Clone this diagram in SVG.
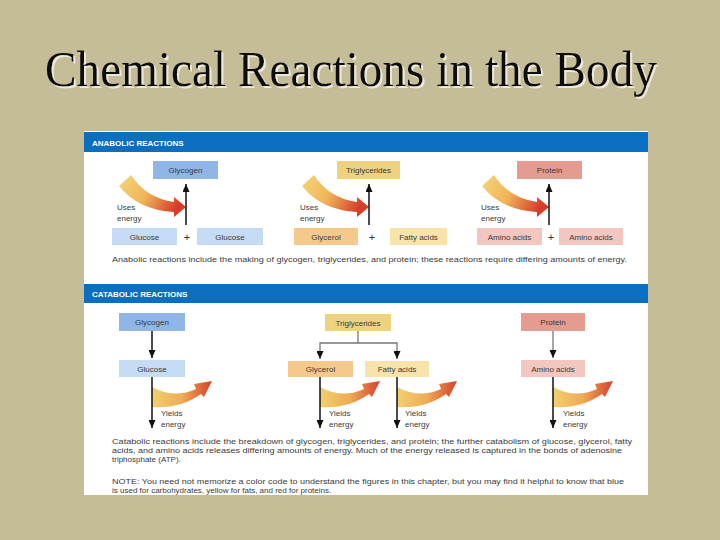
<svg xmlns="http://www.w3.org/2000/svg" width="720" height="540" viewBox="0 0 720 540">
<style>
.lbl{font-family:"Liberation Sans",Arial,sans-serif;font-size:8px;fill:#3a3a3a;text-anchor:middle}
.txt{font-family:"Liberation Sans",Arial,sans-serif;font-size:8px;fill:#3a3a3a}
.hdr{font-family:"Liberation Sans",Arial,sans-serif;font-size:8px;font-weight:bold;fill:#ffffff}
.plus{font-family:"Liberation Sans",Arial,sans-serif;font-size:11px;fill:#333;text-anchor:middle}
.ln{stroke:#111;stroke-width:1.5;fill:none}
.gl{stroke:#777;stroke-width:1.3;fill:none}
</style>
<defs>
<filter id="shadow" x="-5%" y="-20%" width="110%" height="140%">
<feOffset in="SourceAlpha" dx="2" dy="2" result="o"/>
<feFlood flood-color="#ece8da"/>
<feComposite in2="o" operator="in" result="s"/>
<feMerge><feMergeNode in="s"/><feMergeNode in="SourceGraphic"/></feMerge>
</filter>
<marker id="ah" viewBox="0 0 10 10" refX="10" refY="5" markerWidth="8" markerHeight="7" markerUnits="userSpaceOnUse" orient="auto" preserveAspectRatio="none"><path d="M0,0 L10,5 L0,10 z" fill="#111"/></marker>
<linearGradient id="ga" x1="0" y1="0" x2="1" y2="0.3"><stop offset="0" stop-color="#f4d67c"/><stop offset="0.5" stop-color="#f0b458"/><stop offset="1" stop-color="#d63d2a"/></linearGradient>
<linearGradient id="gc" x1="0" y1="0" x2="1" y2="0"><stop offset="0" stop-color="#f2d070"/><stop offset="0.5" stop-color="#eeab55"/><stop offset="1" stop-color="#d6402c"/></linearGradient>
<path id="swA" d="M-55,-32 Q-40,-9 -12,-5 L-12,-10 L0,0 L-12,10 L-12,5 Q-48,3 -67,-21 Z" fill="url(#ga)"/>
<path id="swC" d="M0,0 Q22,12 44,2 L42,-3 L60,-6 L52,10 L49,7 Q28,22 0,20 Z" fill="url(#gc)"/>
</defs>
<rect x="0" y="0" width="720" height="540" fill="#c5bc98"/>
<g id="title">
<text x="45" y="86" font-family="'Liberation Serif','Times New Roman',serif" font-size="50" fill="#111" textLength="612" lengthAdjust="spacingAndGlyphs" filter="url(#shadow)">Chemical Reactions in the Body</text>
</g>
<rect x="84" y="131" width="564" height="364" fill="#ffffff"/>
<g id="anabolic-header">
<rect x="84" y="132" width="564" height="20" fill="#0b6fc1"/>
<text class="hdr" x="92" y="146">ANABOLIC REACTIONS</text>
</g>
<g id="catabolic-header">
<rect x="84" y="284" width="564" height="19" fill="#0b6fc1"/>
<text class="hdr" x="92" y="297">CATABOLIC REACTIONS</text>
</g>
<g id="connectors">
<use href="#swA" x="186" y="207"/>
<use href="#swA" x="369" y="207"/>
<use href="#swA" x="549" y="207"/>
<line class="ln" x1="186" y1="225" x2="186" y2="184" marker-end="url(#ah)"/>
<line class="ln" x1="369" y1="225" x2="369" y2="184" marker-end="url(#ah)"/>
<line class="ln" x1="549" y1="225" x2="549" y2="184" marker-end="url(#ah)"/>
<line class="ln" x1="152" y1="331" x2="152" y2="358" marker-end="url(#ah)"/>
<polyline class="gl" points="358,331 358,343"/>
<polyline class="gl" points="320,359 320,343 397,343 397,359"/>
<line x1="320" y1="350" x2="320" y2="359" stroke="none" marker-end="url(#ah)"/>
<line x1="397" y1="350" x2="397" y2="359" stroke="none" marker-end="url(#ah)"/>
<line class="gl" x1="553" y1="331" x2="553" y2="358" marker-end="url(#ah)"/>
<use href="#swC" x="152" y="387"/>
<use href="#swC" x="320" y="387"/>
<use href="#swC" x="397" y="387"/>
<use href="#swC" x="553" y="387"/>
<line class="ln" x1="152" y1="377" x2="152" y2="428" marker-end="url(#ah)"/>
<line class="ln" x1="320" y1="377" x2="320" y2="428" marker-end="url(#ah)"/>
<line class="ln" x1="397" y1="377" x2="397" y2="428" marker-end="url(#ah)"/>
<line class="ln" x1="553" y1="377" x2="553" y2="428" marker-end="url(#ah)"/>
</g>
<g id="a-glycogen"><rect x="153" y="161" width="65" height="18" fill="#8fb6e6"/><text class="lbl" x="185.5" y="173">Glycogen</text></g>
<g id="a-glucose1"><rect x="112" y="228" width="65" height="17" fill="#c6dbf4"/><text class="lbl" x="144.5" y="239.5">Glucose</text></g>
<g id="a-glucose2"><rect x="197" y="228" width="66" height="17" fill="#c6dbf4"/><text class="lbl" x="230" y="239.5">Glucose</text></g>
<text class="plus" x="187" y="241">+</text>
<g id="a-trig"><rect x="337" y="161" width="63" height="18" fill="#eed27e"/><text class="lbl" x="368.5" y="173">Triglycerides</text></g>
<g id="a-glycerol"><rect x="294" y="228" width="64" height="17" fill="#f5c98c"/><text class="lbl" x="326" y="239.5">Glycerol</text></g>
<g id="a-fatty"><rect x="390" y="228" width="57" height="17" fill="#f8e4aa"/><text class="lbl" x="418.5" y="239.5">Fatty acids</text></g>
<text class="plus" x="372" y="241">+</text>
<g id="a-protein"><rect x="517" y="161" width="65" height="18" fill="#e49b90"/><text class="lbl" x="549.5" y="173">Protein</text></g>
<g id="a-amino1"><rect x="477" y="228" width="65" height="17" fill="#f3c6c0"/><text class="lbl" x="509.5" y="239.5">Amino acids</text></g>
<g id="a-amino2"><rect x="559" y="228" width="64" height="17" fill="#f3c6c0"/><text class="lbl" x="591" y="239.5">Amino acids</text></g>
<text class="plus" x="551" y="241">+</text>
<g id="uses-labels">
<text class="txt" x="117" y="210">Uses</text><text class="txt" x="117" y="221">energy</text>
<text class="txt" x="300" y="210">Uses</text><text class="txt" x="300" y="221">energy</text>
<text class="txt" x="481" y="210">Uses</text><text class="txt" x="481" y="221">energy</text>
</g>
<text class="txt" x="112" y="262" textLength="515" lengthAdjust="spacingAndGlyphs">Anabolic reactions include the making of glycogen, triglycerides, and protein; these reactions require differing amounts of energy.</text>
<g id="c-glycogen"><rect x="119" y="313" width="66" height="18" fill="#8fb6e6"/><text class="lbl" x="152" y="325">Glycogen</text></g>
<g id="c-glucose"><rect x="119" y="360" width="66" height="17" fill="#c6dbf4"/><text class="lbl" x="152" y="371.5">Glucose</text></g>
<g id="c-trig"><rect x="325" y="314" width="66" height="17" fill="#eed27e"/><text class="lbl" x="358" y="325.5">Triglycerides</text></g>
<g id="c-glycerol"><rect x="288" y="361" width="65" height="16" fill="#f5c98c"/><text class="lbl" x="320.5" y="372">Glycerol</text></g>
<g id="c-fatty"><rect x="365" y="361" width="64" height="16" fill="#f8e4aa"/><text class="lbl" x="397" y="372">Fatty acids</text></g>
<g id="c-protein"><rect x="521" y="313" width="64" height="18" fill="#e49b90"/><text class="lbl" x="553" y="325">Protein</text></g>
<g id="c-amino"><rect x="521" y="360" width="64" height="17" fill="#f3c6c0"/><text class="lbl" x="553" y="371.5">Amino acids</text></g>
<g id="yields-labels">
<text class="txt" x="161" y="416">Yields</text><text class="txt" x="161" y="427">energy</text>
<text class="txt" x="329" y="416">Yields</text><text class="txt" x="329" y="427">energy</text>
<text class="txt" x="405" y="416">Yields</text><text class="txt" x="405" y="427">energy</text>
<text class="txt" x="563" y="416">Yields</text><text class="txt" x="563" y="427">energy</text>
</g>
<g id="captions">
<text class="txt" x="112" y="444" textLength="520" lengthAdjust="spacingAndGlyphs">Catabolic reactions include the breakdown of glycogen, triglycerides, and protein; the further catabolism of glucose, glycerol, fatty</text>
<text class="txt" x="112" y="453" textLength="510" lengthAdjust="spacingAndGlyphs">acids, and amino acids releases differing amounts of energy. Much of the energy released is captured in the bonds of adenosine</text>
<text class="txt" x="112" y="462">triphosphate (ATP).</text>
<text class="txt" x="112" y="484" textLength="512" lengthAdjust="spacingAndGlyphs">NOTE: You need not memorize a color code to understand the figures in this chapter, but you may find it helpful to know that blue</text>
<text class="txt" x="112" y="493">is used for carbohydrates, yellow for fats, and red for proteins.</text>
</g>
</svg>
